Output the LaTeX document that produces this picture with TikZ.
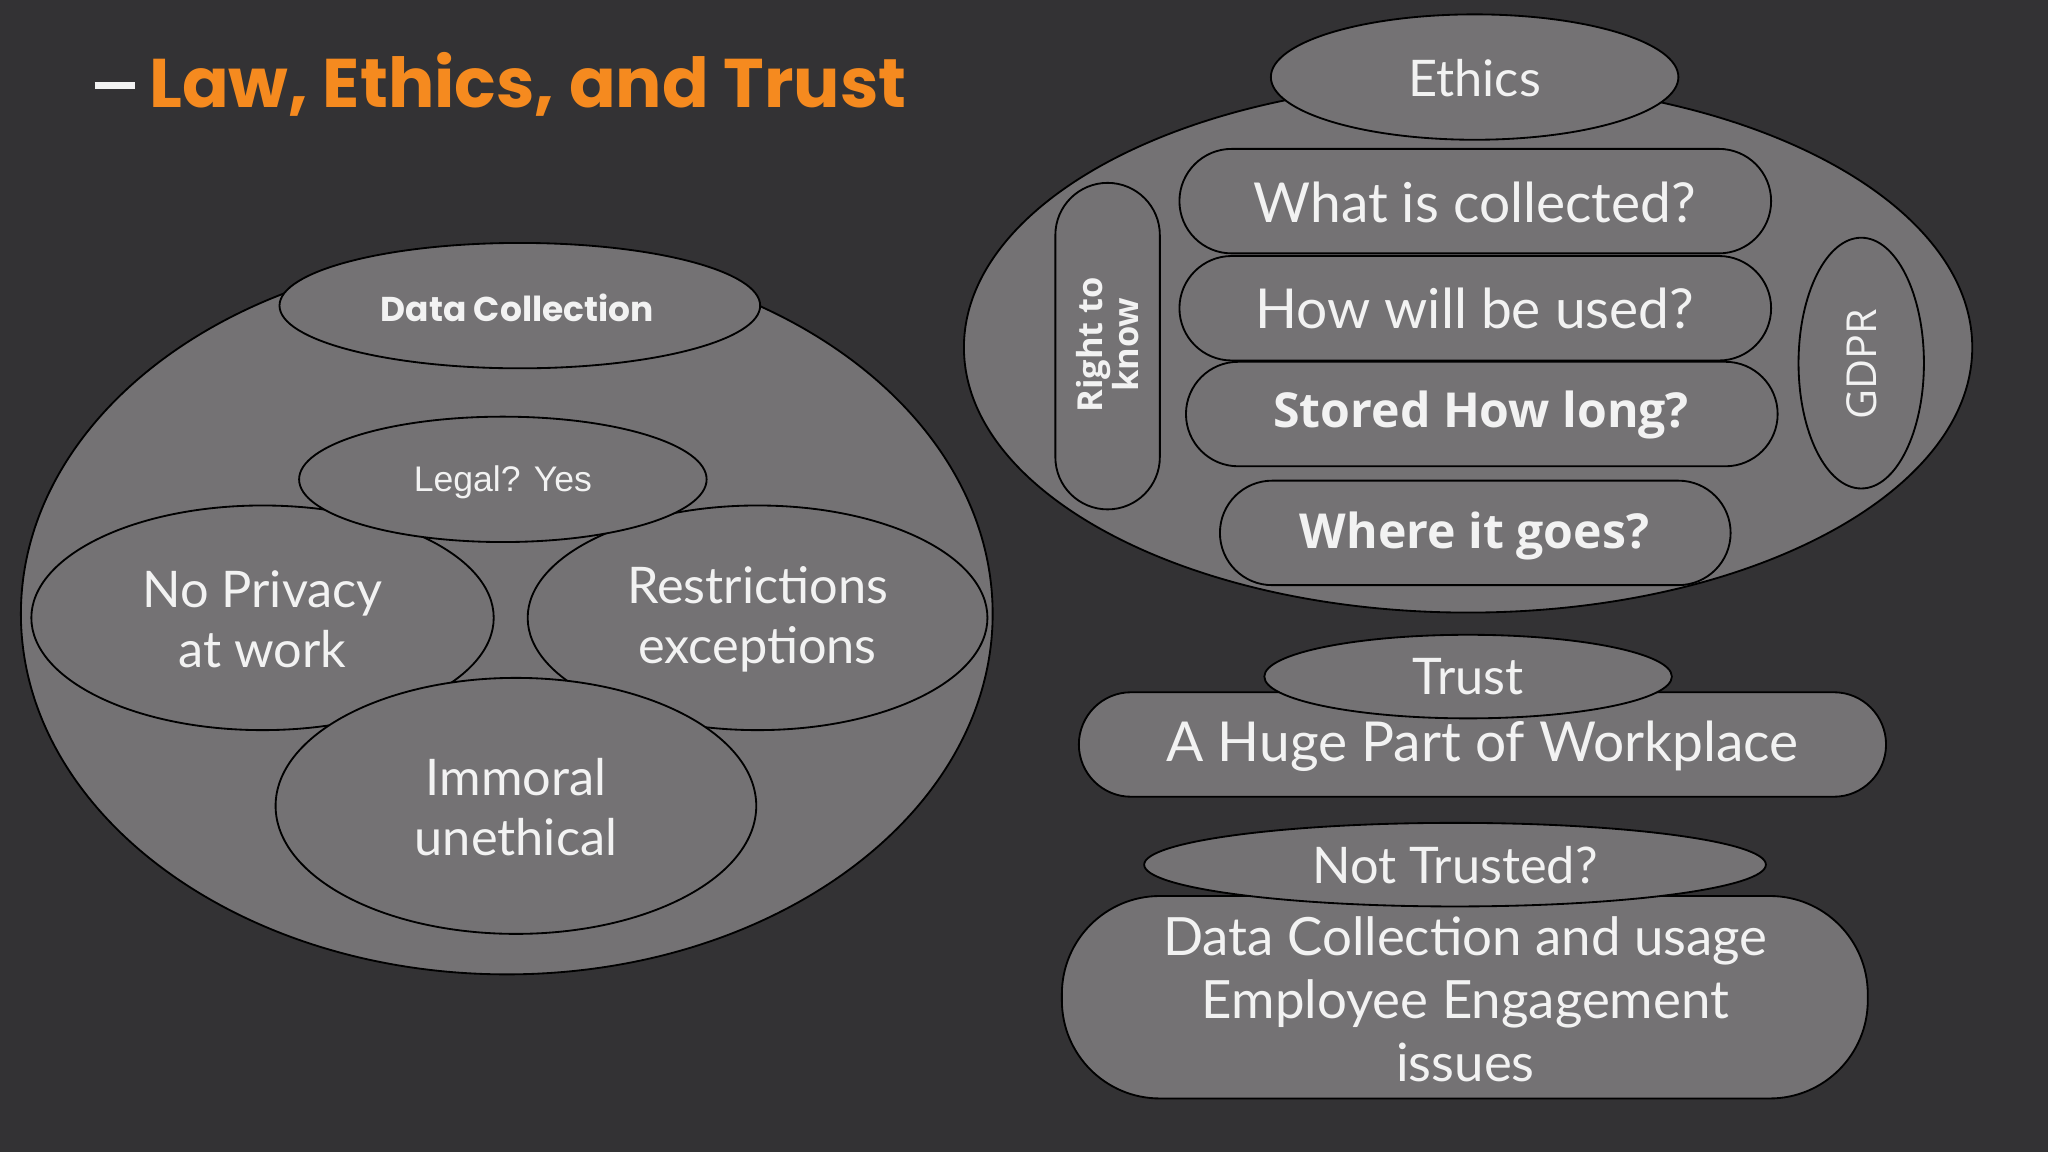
\documentclass[tikz,border=0pt]{standalone}
\usepackage{fontspec}
\setmainfont{Lato}
\newfontfamily\opens{Open Sans}
\newfontfamily\pop{Poppins}
\newfontfamily\lib{Liberation Sans}
\definecolor{bg}{HTML}{333234}
\definecolor{shp}{HTML}{747274}
\definecolor{txt}{HTML}{F2F2F2}
\definecolor{org}{HTML}{F58A1F}
\tikzset{sh/.style={fill=shp,draw=black,line width=0.8pt},
 tx/.style={text=txt,align=center,inner sep=0pt}}
\begin{document}
\begin{tikzpicture}[x=0.02cm,y=-0.02cm]
\fill[bg] (0,0) rectangle (1568,882);
\useasboundingbox (0,0) rectangle (1568,882);
% title
\node[anchor=base west,text=txt,inner sep=0pt,font=\pop\fontsize{32}{36}\selectfont] (dash) at (72,85) {\rule[0.3em]{0.55em}{0.09em}};
\node[anchor=base west,text=org,inner sep=0pt,font=\pop\bfseries\fontsize{30}{36}\selectfont] (title) at (114,82) {Law, Ethics, and Trust};
% left
\path[sh] (388,470) ellipse [x radius=372, y radius=276];
\path[sh] (398,234) ellipse [x radius=184, y radius=48];
\path[sh] (201,473) ellipse [x radius=177, y radius=86];
\path[sh] (580,473) ellipse [x radius=176, y radius=86];
\path[sh] (385,367) ellipse [x radius=156, y radius=48];
\path[sh] (395,617) ellipse [x radius=184, y radius=98];
\node[tx,font=\pop\bfseries\fontsize{15}{18}\selectfont] (dc) at (396,236) {Data Collection};
\node[tx,font=\lib\fontsize{15.5}{18}\selectfont] (legal) at (385,369) {Legal? Yes};
\node[tx,font=\fontsize{22}{26}\selectfont] (np) at (201,474) {No Privacy\\at work};
\node[tx,font=\fontsize{22}{26}\selectfont] (re) at (580,474) {Restrictions\\exceptions};
\node[tx,font=\fontsize{22}{26}\selectfont] (im) at (395,618) {Immoral\\unethical};
% right
\path[sh] (1124,266) ellipse [x radius=386, y radius=203];
\path[sh] (1129,59) ellipse [x radius=156, y radius=48];
\path[sh,rounded corners=0.8cm] (808,140) rectangle (888,390);
\path[sh,rounded corners=0.8cm] (903,114) rectangle (1356,194);
\path[sh,rounded corners=0.8cm] (903,196) rectangle (1356,276);
\path[sh,rounded corners=0.8cm] (908,277) rectangle (1361,357);
\path[sh,rounded corners=0.8cm] (934,368) rectangle (1325,448);
\path[sh] (1425,278) ellipse [x radius=48, y radius=96];
\node[tx,font=\fontsize{22}{26}\selectfont] (eth) at (1129,60) {Ethics};
\node[tx,rotate=90,font=\opens\bfseries\fontsize{15}{15.5}\selectfont] (rk) at (848,264) {Right to\\know};
\node[tx,font=\fontsize{24}{28}\selectfont] (q1) at (1129,155) {What is collected?};
\node[tx,font=\fontsize{24}{28}\selectfont] (q2) at (1129,236) {How will be used?};
\node[tx,font=\opens\bfseries\fontsize{21}{26}\selectfont] (q3) at (1134,318) {Stored How long?};
\node[tx,font=\opens\bfseries\fontsize{21}{26}\selectfont] (q4) at (1129,410) {Where it goes?};
\node[tx,rotate=90,font=\opens\fontsize{18}{22}\selectfont] (gd) at (1425,279) {GDPR};
% trust
\path[sh,rounded corners=0.8cm] (826,530) rectangle (1444,610);
\path[sh] (1124,518) ellipse [x radius=156, y radius=32];
\node[tx,font=\fontsize{22}{26}\selectfont] (tr) at (1124,518) {Trust};
\node[tx,font=\fontsize{24}{28}\selectfont] (hp) at (1135,571) {A Huge Part of Workplace};
\path[sh,rounded corners=1.5cm] (813,686) rectangle (1430,841);
\path[sh] (1114,662) ellipse [x radius=238, y radius=32];
\node[tx,font=\fontsize{22}{26}\selectfont] (nt) at (1114,662) {Not Trusted?};
\node[tx,font=\fontsize{23}{27.5}\selectfont] (dcu) at (1122,765) {Data Collection and usage\\Employee Engagement\\issues};
\end{tikzpicture}
\end{document}
